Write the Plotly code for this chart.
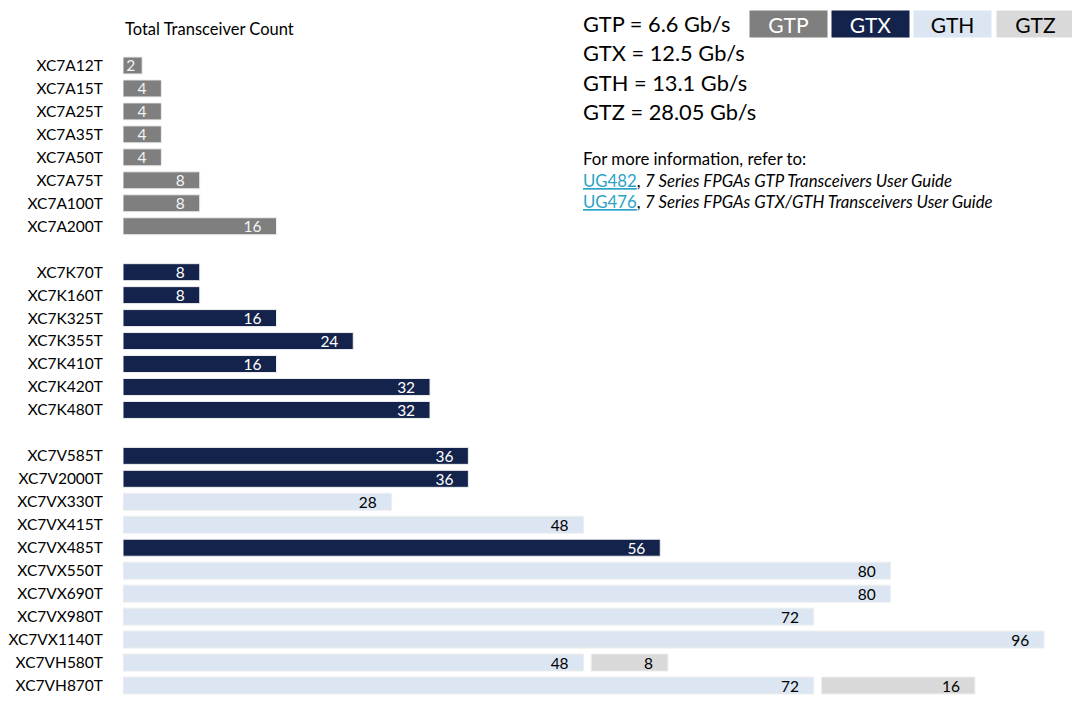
import plotly.graph_objects as go

# ---- data ----
gtp_devices = ["XC7A12T", "XC7A15T", "XC7A25T", "XC7A35T", "XC7A50T", "XC7A75T", "XC7A100T", "XC7A200T"]
gtp_counts = [2, 4, 4, 4, 4, 8, 8, 16]

gtx_devices = ["XC7K70T", "XC7K160T", "XC7K325T", "XC7K355T", "XC7K410T", "XC7K420T", "XC7K480T",
               "XC7V585T", "XC7V2000T", "XC7VX485T"]
gtx_counts = [8, 8, 16, 24, 16, 32, 32, 36, 36, 56]

gth_devices = ["XC7VX330T", "XC7VX415T", "XC7VX550T", "XC7VX690T", "XC7VX980T", "XC7VX1140T",
               "XC7VH580T", "XC7VH870T"]
gth_counts = [28, 48, 80, 80, 72, 96, 48, 72]

gtz_devices = ["XC7VH580T", "XC7VH870T"]
gtz_counts = [8, 16]

category_order = (gtp_devices + [" "] +
                  ["XC7K70T", "XC7K160T", "XC7K325T", "XC7K355T", "XC7K410T", "XC7K420T", "XC7K480T"] + ["  "] +
                  ["XC7V585T", "XC7V2000T", "XC7VX330T", "XC7VX415T", "XC7VX485T", "XC7VX550T",
                   "XC7VX690T", "XC7VX980T", "XC7VX1140T", "XC7VH580T", "XC7VH870T"])

speed_lines = ["GTP = 6.6 Gb/s", "GTX = 12.5 Gb/s", "GTH = 13.1 Gb/s", "GTZ = 28.05 Gb/s"]
legend_names = ["GTP", "GTX", "GTH", "GTZ"]

# ---- style ----
C_GTP = "#7f7f7f"
C_GTX = "#14234b"
C_GTH = "#dce6f2"
C_GTZ = "#d9d9d9"
FONT = "Lato"
GTZ_GAP = 0.8
OFF = 8  # page body margin

W, H = 1072, 695
ML, MR, MT, MB = 115, 0, 46, 5.5
PW, PH = W - ML - MR, H - MT - MB


def px(x):
    return (x - OFF - ML) / PW


def py(y):
    return (H - MB - (y - OFF)) / PH


fig = go.Figure()
PAD = "\u00a0\u00a0\u00a0"


def label(v):
    return f"{v}{PAD}" if v >= 3 else f"{v}\u00a0"


def add_bars(devs, vals, color, tcolor, base=None):
    fig.add_trace(go.Bar(
        y=devs, x=vals, base=base, orientation="h",
        marker=dict(color=color, line=dict(color="#eeeeee", width=1)),
        width=0.74,
        text=[label(v) for v in vals],
        textposition="inside", insidetextanchor="end", textangle=0,
        textfont=dict(family=FONT, size=15.5, color=tcolor),
        constraintext="none",
        showlegend=False, hoverinfo="x+y",
    ))


add_bars(gtp_devices, gtp_counts, C_GTP, "#f4f4f4")
add_bars(gtx_devices, gtx_counts, C_GTX, "white")
add_bars(gth_devices, gth_counts, C_GTH, "black")
gtz_base = [gth_counts[gth_devices.index(d)] + GTZ_GAP for d in gtz_devices]
add_bars(gtz_devices, gtz_counts, C_GTZ, "black", base=gtz_base)

fig.update_layout(
    width=W, height=H,
    margin=dict(l=ML, r=MR, t=MT, b=MB),
    plot_bgcolor="white", paper_bgcolor="white",
    barmode="overlay",
    font=dict(family=FONT, color="black"),
    xaxis=dict(range=[0, 99.75], visible=False, fixedrange=True),
    yaxis=dict(type="category", categoryorder="array", categoryarray=category_order,
               range=[len(category_order) - 0.5, -0.5],
               showgrid=False, zeroline=False, showline=False, ticks="",
               ticklabelstandoff=19,
               tickfont=dict(family=FONT, size=15.5, color="black")),
)

ann = []
ann.append(dict(text="Total Transceiver Count", x=px(123), y=py(29), xanchor="left", yanchor="middle",
                font=dict(size=16.5)))
for i, s in enumerate(speed_lines):
    ann.append(dict(text=s, x=px(581), y=py(23 + i * 29.6), xanchor="left", yanchor="middle",
                    font=dict(size=21.8)))

box_x = [749, 831, 913, 996]
box_fill = [C_GTP, C_GTX, C_GTH, C_GTZ]
box_txt = ["white", "white", "black", "black"]
for name, bx, f, tc in zip(legend_names, box_x, box_fill, box_txt):
    ann.append(dict(text=name, x=px(bx), y=py(24), xanchor="left", yanchor="middle",
                    width=77, height=26, bgcolor=f, borderpad=0, align="center",
                    font=dict(size=21, color=tc)))

link = "#2aa3c4"
ann.append(dict(text="For more information, refer to:", x=px(581), y=py(159), xanchor="left", yanchor="middle",
                font=dict(size=16.8)))
ann.append(dict(text=f"<span style='color:{link};text-decoration:underline'>UG482</span>, <i>7 Series FPGAs GTP Transceivers User Guide</i>",
                x=px(581), y=py(180.5), xanchor="left", yanchor="middle", font=dict(size=16.8)))
ann.append(dict(text=f"<span style='color:{link};text-decoration:underline'>UG476</span>, <i>7 Series FPGAs GTX/GTH Transceivers User Guide</i>",
                x=px(581), y=py(202), xanchor="left", yanchor="middle", font=dict(size=16.8)))

for a in ann:
    a.update(xref="paper", yref="paper", showarrow=False)
fig.update_layout(annotations=ann)

fig.write_html("out.html")
